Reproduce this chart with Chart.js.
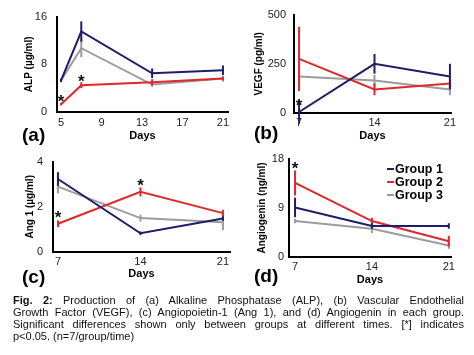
<!DOCTYPE html>
<html><head><meta charset="utf-8">
<script src="https://cdn.jsdelivr.net/npm/chart.js@4.4.1/dist/chart.umd.min.js"></script>
<style>
html,body{margin:0;padding:0;background:#fff;width:474px;height:355px;overflow:hidden;font-family:"Liberation Sans",Arial,sans-serif;}
canvas{position:absolute;}
.lbl{position:absolute;font-weight:bold;font-size:19px;color:#000;line-height:19px;}
#cap{position:absolute;left:13px;top:294px;width:451px;font-size:11px;line-height:12px;color:#111;}
#cap div{text-align:justify;text-align-last:justify;}
#cap div.last{text-align-last:left;}
</style></head>
<body>
<canvas id="ca" width="237" height="145" style="left:0;top:0"></canvas>
<canvas id="cb" width="237" height="145" style="left:237px;top:0"></canvas>
<canvas id="cc" width="237" height="145" style="left:0;top:145px"></canvas>
<canvas id="cd" width="237" height="145" style="left:237px;top:145px"></canvas>
<div class="lbl" style="left:22px;top:125px">(a)</div>
<div class="lbl" style="left:254px;top:123px">(b)</div>
<div class="lbl" style="left:22px;top:267px">(c)</div>
<div class="lbl" style="left:254px;top:266px">(d)</div>
<div id="cap">
<div><b>Fig. 2:</b> Production of (a) Alkaline Phosphatase (ALP), (b) Vascular Endothelial</div>
<div>Growth Factor (VEGF), (c) Angiopoietin-1 (Ang 1), and (d) Angiogenin in each group.</div>
<div>Significant differences shown only between groups at different times. [*] indicates</div>
<div class="last">p&lt;0.05. (n=7/group/time)</div>
</div>
<script>
// ---------- data ----------
const groupNames = ["Group 1", "Group 2", "Group 3"];

// (a) ALP
const daysA = [5, 7, 14, 21];
const alpG1 = [5.3, 13.5, 6.5, 7.0];
const alpG2 = [1.3, 4.5, 5.0, 5.6];
const alpG3 = [5.3, 10.7, 4.6, 5.6];
const alpErrG1 = [0.3, 1.7, 0.8, 0.8];
const alpErrG2 = [0.2, 0.5, 0.5, 0.3];
const alpErrG3 = [0.2, 1.5, 0.4, 0.5];
const alpXTicks = [5, 9, 13, 17, 21];
const alpYTicks = [0, 8, 16];
const alpStarX = [5, 7];
const alpStarY = [2.4, 5.8];

// (b) VEGF
const daysB = [7, 14, 21];
const vegfG1 = [5, 250, 185];
const vegfG2 = [275, 120, 150];
const vegfG3 = [185, 165, 120];
const vegfErrG1 = [60, 50, 65];
const vegfErrG2 = [163, 30, 25];
const vegfErrG3 = [40, 30, 30];
const vegfXTicks = [7, 14, 21];
const vegfYTicks = [0, 250, 500];
const vegfStarX = [7];
const vegfStarY = [60];

// (c) Ang 1
const daysC = [7, 14, 21];
const ang1G1 = [3.23, 0.83, 1.48];
const ang1G2 = [1.25, 2.66, 1.72];
const ang1G3 = [2.89, 1.5, 1.32];
const ang1ErrG1 = [0.3, 0.08, 0.1];
const ang1ErrG2 = [0.15, 0.2, 0.15];
const ang1ErrG3 = [0.3, 0.15, 0.35];
const ang1XTicks = [7, 14, 21];
const ang1YTicks = [0, 2, 4];
const ang1StarX = [7, 14];
const ang1StarY = [1.7, 3.15];

// (d) Angiogenin
const daysD = [7, 14, 21];
const angioG1 = [9.1, 5.7, 5.7];
const angioG2 = [13.6, 6.6, 2.9];
const angioG3 = [6.6, 5.2, 2.1];
const angioErrG1 = [1.8, 0.5, 0.5];
const angioErrG2 = [2.3, 0.6, 1.0];
const angioErrG3 = [0.4, 0.8, 0.6];
const angioXTicks = [7, 14, 21];
const angioYTicks = [0, 9, 18];
const angioStarX = [7];
const angioStarY = [17.1];

// ---------- styling ----------
const COLORS = ["#1d1d6b", "#e0282c", "#9c9c9c"];
const FONT = "'Liberation Sans', Arial, sans-serif";
Chart.defaults.font.family = FONT;
Chart.defaults.animation = false;

const errorBarPlugin = {
  id: 'errbars',
  afterDatasetDraw(chart, args) {
    const ds = chart.data.datasets[args.index];
    if (!ds.errorBars) return;
    const ctx = chart.ctx, xs = chart.scales.x, ys = chart.scales.y;
    ctx.save();
    ctx.strokeStyle = ds.borderColor;
    ctx.lineWidth = 2;
    ds.data.forEach((p, i) => {
      const e = ds.errorBars[i];
      const x = xs.getPixelForValue(p.x);
      ctx.beginPath();
      ctx.moveTo(x, ys.getPixelForValue(p.y - e));
      ctx.lineTo(x, ys.getPixelForValue(p.y + e));
      ctx.stroke();
    });
    ctx.restore();
  }
};

const starPlugin = {
  id: 'stars',
  afterDraw(chart, args, opts) {
    if (!opts.xs) return;
    const ctx = chart.ctx, xs = chart.scales.x, ys = chart.scales.y;
    ctx.save();
    ctx.font = "bold 17px " + FONT;
    ctx.fillStyle = "#111";
    ctx.textAlign = "center";
    ctx.textBaseline = "alphabetic";
    opts.xs.forEach((xv, i) => {
      ctx.fillText("*", xs.getPixelForValue(xv), ys.getPixelForValue(opts.ys[i]) + 0.57 * 17);
    });
    ctx.restore();
  }
};

const legendPlugin = {
  id: 'miniLegend',
  afterDraw(chart, args, opts) {
    if (!opts.show) return;
    const ctx = chart.ctx;
    ctx.save();
    ctx.font = "bold 12.5px " + FONT;
    ctx.textBaseline = "middle";
    ctx.textAlign = "left";
    chart.data.datasets.forEach((ds, i) => {
      const y = opts.y0 + i * opts.dy;
      ctx.strokeStyle = ds.borderColor;
      ctx.lineWidth = 2;
      ctx.beginPath();
      ctx.moveTo(opts.x0, y);
      ctx.lineTo(opts.x0 + 7, y);
      ctx.stroke();
      ctx.fillStyle = "#000";
      ctx.fillText(ds.label, opts.x0 + 8, y + 0.5);
    });
    ctx.restore();
  }
};

function makePanel(id, cfg) {
  const datasets = cfg.series.map((vals, i) => ({
    label: groupNames[i],
    data: vals.map((v, j) => ({x: cfg.days[j], y: v})),
    errorBars: cfg.errs[i],
    borderColor: COLORS[i],
    backgroundColor: COLORS[i],
    borderWidth: 2,
    pointRadius: 0,
    tension: 0,
    fill: false
  }));
  // draw order: grey under, red, navy on top
  const order = [0, 1, 2];
  return new Chart(document.getElementById(id), {
    type: 'line',
    data: {datasets},
    options: {
      responsive: false,
      devicePixelRatio: 1,
      animation: false,
      layout: {padding: {left: 0, top: cfg.top, right: 237 - cfg.right, bottom: cfg.pb}},
      plugins: {
        legend: {display: false},
        tooltip: {enabled: false},
        stars: {xs: cfg.starX, ys: cfg.starY},
        miniLegend: cfg.legend || {show: false}
      },
      scales: {
        x: {
          type: 'linear', min: cfg.xmin, max: cfg.xmax,
          grid: {display: false, drawTicks: false},
          border: {display: true, color: '#000', width: 2},
          afterBuildTicks: s => { s.ticks = cfg.xTicks.map(v => ({value: v})); },
          afterFit: s => { s.height = 145 - cfg.pb - cfg.bottom; },
          ticks: {font: {size: 11}, color: '#222', padding: cfg.xpad, maxRotation: 0, autoSkip: false},
          title: {display: true, text: 'Days', font: {size: 11, weight: 'bold'}, color: '#000', padding: 0}
        },
        y: {
          type: 'linear', min: cfg.yTicks[0], max: cfg.yTicks[cfg.yTicks.length - 1],
          grid: {display: false, drawTicks: false},
          border: {display: true, color: '#000', width: 2},
          afterBuildTicks: s => { s.ticks = cfg.yTicks.map(v => ({value: v})); },
          afterFit: s => { s.width = cfg.left; },
          ticks: {font: {size: 11}, color: '#222', padding: cfg.ypad},
          title: {display: true, text: cfg.ytitle, font: {size: 10, weight: 'bold'}, color: '#000', padding: {top: cfg.ytpad, bottom: 0}}
        }
      }
    },
    plugins: [errorBarPlugin, starPlugin, legendPlugin]
  });
}

makePanel('ca', {
  days: daysA, series: [alpG1, alpG2, alpG3], errs: [alpErrG1, alpErrG2, alpErrG3],
  xTicks: alpXTicks, yTicks: alpYTicks, xmin: 4.6, xmax: 21.5,
  starX: alpStarX, starY: alpStarY, ytitle: 'ALP (µg/ml)',
  left: 57, top: 11, right: 228, bottom: 112, pb: 2.4, xpad: 4, ypad: 10, ytpad: 23
});
makePanel('cb', {
  days: daysB, series: [vegfG1, vegfG2, vegfG3], errs: [vegfErrG1, vegfErrG2, vegfErrG3],
  xTicks: vegfXTicks, yTicks: vegfYTicks, xmin: 6.53, xmax: 21.1,
  starX: vegfStarX, starY: vegfStarY, ytitle: 'VEGF (pg/ml)',
  left: 57, top: 13, right: 214, bottom: 113, pb: 2.4, xpad: 3.4, ypad: 8, ytpad: 16
});
makePanel('cc', {
  days: daysC, series: [ang1G1, ang1G2, ang1G3], errs: [ang1ErrG1, ang1ErrG2, ang1ErrG3],
  xTicks: ang1XTicks, yTicks: ang1YTicks, xmin: 6.58, xmax: 21.6,
  starX: ang1StarX, starY: ang1StarY, ytitle: 'Ang 1 (µg/ml)',
  left: 53, top: 13, right: 230, bottom: 107, pb: 9.4, xpad: 3.4, ypad: 10, ytpad: 24
});
makePanel('cd', {
  days: daysD, series: [angioG1, angioG2, angioG3], errs: [angioErrG1, angioErrG2, angioErrG3],
  xTicks: angioXTicks, yTicks: angioYTicks, xmin: 6.45, xmax: 21.2,
  starX: angioStarX, starY: angioStarY, ytitle: 'Angiogenin (ηg/ml)',
  left: 52, top: 14, right: 214, bottom: 112, pb: 3.4, xpad: 3.4, ypad: 5, ytpad: 19,
  legend: {show: true, x0: 150, y0: 24, dy: 13}
});
</script>
</body></html>
